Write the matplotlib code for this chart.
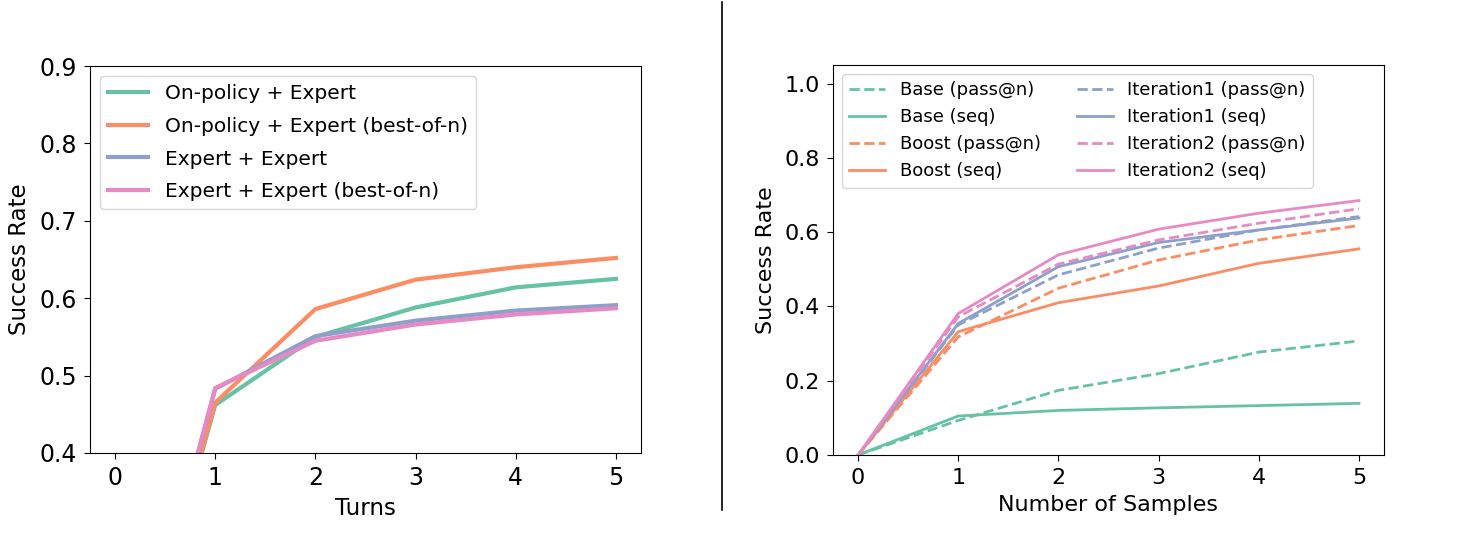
import matplotlib
matplotlib.use("Agg")
import matplotlib.pyplot as plt
from matplotlib.lines import Line2D

# left panel: turns
turns = [0, 1, 2, 3, 4, 5]
onpolicy_expert = [0.0, 0.462, 0.550, 0.588, 0.614, 0.625]
onpolicy_expert_bon = [0.0, 0.465, 0.586, 0.624, 0.640, 0.652]
expert_expert = [0.0, 0.483, 0.551, 0.571, 0.584, 0.591]
expert_expert_bon = [0.0, 0.484, 0.545, 0.566, 0.579, 0.587]

# right panel: number of samples
samples = [0, 1, 2, 3, 4, 5]
base_pass = [0.0, 0.093, 0.174, 0.219, 0.277, 0.307]
base_seq = [0.0, 0.105, 0.120, 0.127, 0.133, 0.139]
boost_pass = [0.0, 0.318, 0.449, 0.525, 0.579, 0.618]
boost_seq = [0.0, 0.332, 0.410, 0.455, 0.516, 0.555]
iter1_pass = [0.0, 0.350, 0.485, 0.557, 0.606, 0.642]
iter1_seq = [0.0, 0.354, 0.507, 0.572, 0.606, 0.638]
iter2_pass = [0.0, 0.372, 0.514, 0.579, 0.624, 0.663]
iter2_seq = [0.0, 0.381, 0.539, 0.608, 0.651, 0.685]

c_green, c_orange, c_blue, c_pink = "#66c2a5", "#fc8d62", "#8da0cb", "#e78ac3"

W, H = 1457, 537
fig = plt.figure(figsize=(W / 100, H / 100), dpi=100)

ax1 = fig.add_axes([90 / W, (H - 453) / H, 551 / W, 387 / H])
ax1.plot(turns, onpolicy_expert, color=c_green, lw=3, label="On-policy + Expert")
ax1.plot(turns, onpolicy_expert_bon, color=c_orange, lw=3, label="On-policy + Expert (best-of-n)")
ax1.plot(turns, expert_expert, color=c_blue, lw=3, label="Expert + Expert")
ax1.plot(turns, expert_expert_bon, color=c_pink, lw=3, label="Expert + Expert (best-of-n)")
ax1.set_ylim(0.4, 0.9)
ax1.set_xticks(turns)
ax1.tick_params(labelsize=17, length=4.5, pad=5)
ax1.set_xlabel("Turns", fontsize=16.5, labelpad=5)
ax1.set_ylabel("Success Rate", fontsize=16.5, labelpad=6)
ax1.legend(loc="upper left", fontsize=14.5, handlelength=2.0, labelspacing=0.68)

ax2 = fig.add_axes([833 / W, (H - 455) / H, 551 / W, 390 / H])
ax2.plot(samples, base_pass, color=c_green, lw=2, ls="--", label="Base (pass@n)")
ax2.plot(samples, base_seq, color=c_green, lw=2, label="Base (seq)")
ax2.plot(samples, boost_pass, color=c_orange, lw=2, ls="--", label="Boost (pass@n)")
ax2.plot(samples, boost_seq, color=c_orange, lw=2, label="Boost (seq)")
ax2.plot(samples, iter1_pass, color=c_blue, lw=2, ls="--", label="Iteration1 (pass@n)")
ax2.plot(samples, iter1_seq, color=c_blue, lw=2, label="Iteration1 (seq)")
ax2.plot(samples, iter2_pass, color=c_pink, lw=2, ls="--", label="Iteration2 (pass@n)")
ax2.plot(samples, iter2_seq, color=c_pink, lw=2, label="Iteration2 (seq)")
ax2.set_ylim(0, 1.05)
ax2.set_xticks(samples)
ax2.tick_params(labelsize=16, length=4.5, pad=5)
ax2.set_xlabel("Number of Samples", fontsize=16, labelpad=5)
ax2.set_ylabel("Success Rate", fontsize=16, labelpad=6)
ax2.legend(loc="upper left", ncol=2, fontsize=13, columnspacing=2.0)

# separator between panels
fig.add_artist(Line2D([722 / W, 722 / W], [(H - 510) / H, (H - 2) / H],
                      color="black", lw=1.2, transform=fig.transFigure))

fig.savefig("out.png", dpi=100)
